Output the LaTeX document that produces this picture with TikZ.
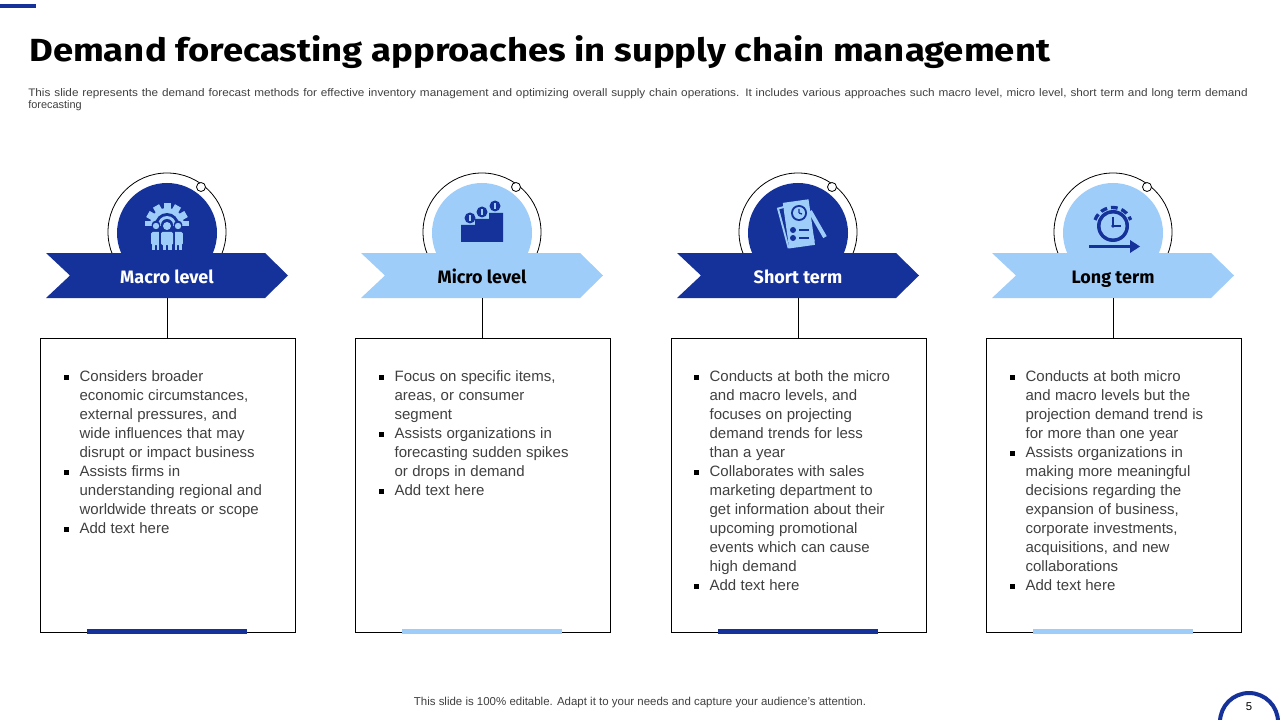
\documentclass[tikz,border=0pt]{standalone}
\usepackage{fontspec}
\setmainfont{Liberation Sans}
\newfontfamily\headfont{Fira Sans}
\usepackage{enumitem}
\usetikzlibrary{arrows.meta}
\definecolor{dblue}{HTML}{15319A}
\definecolor{lblue}{HTML}{9FCDF9}
\definecolor{txt}{HTML}{404040}
\newcommand{\bsq}{\raisebox{1.2pt}{\rule{3.6pt}{3.6pt}}}
\newcommand{\colbody}[1]{\fontsize{11.25}{14.25}\selectfont\color{txt}%
\begin{itemize}[leftmargin=13pt,labelsep=8pt,label=\textcolor{black}{\bsq},itemsep=0pt,parsep=0pt,topsep=0pt,partopsep=0pt]#1\end{itemize}}
\begin{document}
\begin{tikzpicture}[x=0.75pt,y=-0.75pt,
  boxs/.style={draw=black,line width=0.6pt},
  lbl/.style={font=\headfont\bfseries\fontsize{13.5}{16}\selectfont,text height=10pt,text depth=3pt},
  bodytext/.style={anchor=north west,text width=200*0.75pt,inner sep=0pt,align=left}]
\useasboundingbox (0,0) rectangle (1280,720);
\fill[white] (0,0) rectangle (1280,720);
\fill[dblue] (0,4) rectangle (36,8);
\node[anchor=west,inner sep=0pt,font=\headfont\bfseries\fontsize{24}{28}\selectfont,text=black] (title) at (29,52) {\scalebox{1.14}[1]{Demand forecasting approaches in supply chain management}};
\node[anchor=north west,inner sep=0pt,text width=1245*0.75pt,align=left,font=\fontsize{8.2}{9.6}\selectfont,text=txt] (sub) at (28,88) {\scalebox{1.075}[1]{This slide represents the demand forecast methods for effective inventory management and optimizing overall supply chain operations. It includes various approaches such macro level, micro level, short term and long term demand}\\ forecasting};
\node[font=\fontsize{8.6}{10}\selectfont,text=txt] (foot) at (640,703) {This slide is 100\% editable. Adapt it to your needs and capture your audience’s attention.};
\begin{scope}
\clip (0,0) rectangle (1280,720);
\draw[dblue,line width=3pt] (1249,722) circle (29);
\end{scope}
\node[font=\fontsize{8.5}{10}\selectfont] (pg) at (1249,707) {5};
% columns
\foreach \i/\ox/\fc/\tc/\lab in {1/0/dblue/white/Macro level,2/315/lblue/black/Micro level,3/631/dblue/white/Short term,4/946/lblue/black/Long term}{
 \begin{scope}[xshift=\ox*0.75pt]
  \draw[black,line width=0.6pt] (167,232) circle (59);
  \fill[white] (100,253) rectangle (240,300);
  \fill[\fc] (167,233) circle (50);
  \filldraw[fill=white,draw=black,line width=0.6pt] (201,187) circle (4.5);
  \fill[\fc] (46,253) -- (265,253) -- (288,275.5) -- (265,298) -- (46,298) -- (70,275.5) -- cycle;
  \node[lbl,text=\tc] (lab\i) at (167,279) {\lab};
  \draw[boxs] (40,338) rectangle (295,632);
  \coordinate (top\i) at (167,338);
  \draw[black,line width=0.6pt] (167,298) -- (top\i);
  \fill[\fc] (87,629) rectangle (247,634);
 \end{scope}
}
% icons
% 1 people + gear
\begin{scope}[xshift=167*0.75pt,yshift=-225*0.75pt]
 \foreach \a in {0,30,...,330} \fill[lblue,rotate=\a] (-3.5,-22) rectangle (3.5,-12);
 \fill[lblue] (0,0) circle (17);
 \fill[dblue] (0,0) circle (12);
 \fill[lblue] (0,0) circle (9);
 \fill[dblue] (0,0) circle (6);
 \fill[dblue] (-22,1) rectangle (22,28);
 \foreach \px/\s in {-11/0.8,11/0.8,0/1}{
  \fill[dblue] (\px,0) circle (5.5*\s);
  \fill[dblue] (\px-8*\s,5) rectangle (\px+8*\s,26);
  \fill[lblue] (\px,1) circle (4*\s);
  \fill[lblue,rounded corners=1pt] (\px-6*\s,7) rectangle (\px+6*\s,20);
  \fill[lblue] (\px-4.5*\s,18) rectangle (\px-0.8*\s,25);
  \fill[lblue] (\px+0.8*\s,18) rectangle (\px+4.5*\s,25);
 }
\end{scope}
% 2 steps
\begin{scope}[xshift=482*0.75pt,yshift=-228*0.75pt]
 \fill[dblue] (-21,-3) -- (-7,-3) -- (-7,-9) -- (7,-9) -- (7,-15) -- (21,-15) -- (21,14) -- (-21,14) -- cycle;
 \foreach \px/\py in {-12/-10,0/-16,13/-22}{
  \fill[dblue] (\px,\py) circle (5.5);
  \fill[lblue] (\px-1,\py-3) rectangle (\px+1,\py+3);
 }
\end{scope}
% 3 documents
\begin{scope}[xshift=798*0.75pt,yshift=-225*0.75pt]
 \fill[lblue,rotate=15] (-16,-22) rectangle (12,20);
 \fill[dblue,rotate=15] (-14,-20) rectangle (10,18);
 \fill[lblue,rotate=8] (-12,-24) rectangle (14,22);
 \fill[dblue] (1,-12) circle (8);
 \fill[lblue] (1,-12) circle (6);
 \draw[dblue,line width=1pt] (1,-12) -- (1,-16) (1,-12) -- (4,-11);
 \fill[dblue] (-5,5) circle (3); \fill[dblue] (-5,13) circle (3);
 \fill[dblue] (1,4) rectangle (11,6); \fill[dblue] (1,12) rectangle (11,14);
 \fill[lblue,rotate around={30:(20,0)}] (18,-16) rectangle (22,14);
\end{scope}
% 4 clock + arrow
\begin{scope}[xshift=1113*0.75pt,yshift=-228*0.75pt]
 \fill[dblue] (0,-2) circle (16);
 \fill[lblue] (0,-2) circle (12.5);
 \draw[dblue,line width=2.5pt,dash pattern=on 5pt off 3pt] (-18,-8) arc (200:340:19);
 \fill[dblue] (0,-2) circle (1.8);
 \draw[dblue,line width=1.6pt] (0,-2) -- (0,-11) (0,-2) -- (8,-2);
 \fill[dblue] (-24,17) rectangle (18,20);
 \fill[dblue] (17,12) -- (27,18.5) -- (17,25) -- cycle;
\end{scope}
% texts
\node[bodytext] (t1) at (62,362) {\colbody{\item Considers broader economic circumstances, external pressures, and wide influences that may disrupt or impact business
\item Assists firms in understanding regional and worldwide threats or scope
\item Add text here}};
\node[bodytext] (t2) at (377,362) {\colbody{\item Focus on specific items, areas, or consumer segment
\item Assists organizations in forecasting sudden spikes or drops in demand
\item Add text here}};
\node[bodytext] (t3) at (692,362) {\colbody{\item Conducts at both the micro and macro levels, and focuses on projecting demand trends for less than a year
\item Collaborates with sales marketing department to get information about their upcoming promotional events which can cause high demand
\item Add text here}};
\node[bodytext] (t4) at (1008,362) {\colbody{\item Conducts at both micro and macro levels but the projection demand trend is for more than one year
\item Assists organizations in making more meaningful decisions regarding the expansion of business, corporate investments, acquisitions, and new collaborations
\item Add text here}};
\end{tikzpicture}
\end{document}
